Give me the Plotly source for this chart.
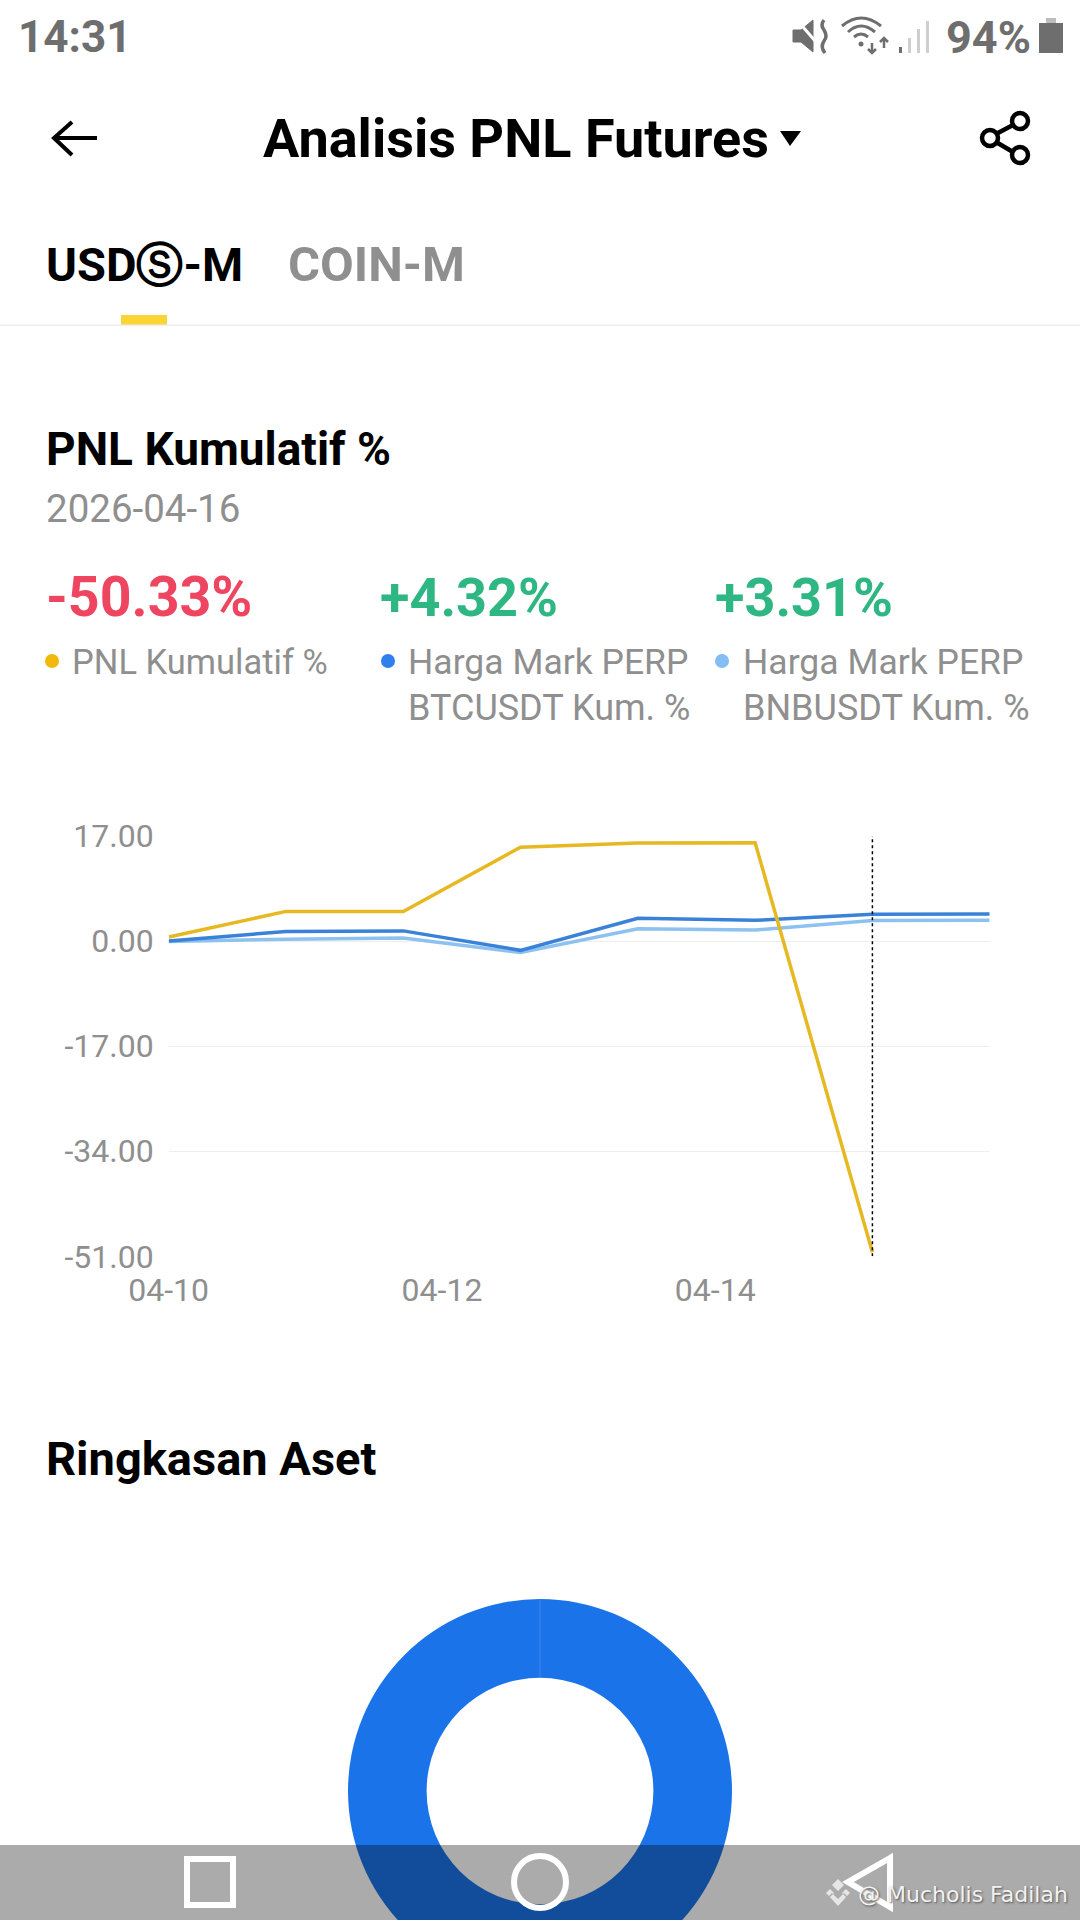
import plotly.graph_objects as go

# page is taller than the window so the donut can run off the bottom
W = 1080
H = 1990

x_days = [0, 1, 2, 3, 4, 5, 6, 7]
pnl_cum = [0.65, 4.8, 4.8, 15.2, 15.85, 15.9, -50.33]
btc_cum = [0.0, 1.55, 1.65, -1.5, 3.7, 3.35, 4.32, 4.4]
bnb_cum = [-0.05, 0.3, 0.5, -1.85, 2.0, 1.8, 3.31, 3.35]

y_ticks = [17, 0, -17, -34, -51]
y_labels = ["17.00", "0.00", "-17.00", "-34.00", "-51.00"]
x_ticks = [0, 2.33, 4.66]
x_labels = ["04-10", "04-12", "04-14"]
cursor_day = 6

asset_names = ["Aset"]
asset_values = [100]

GRAY = "#8f8f8f"
BAR_GRAY = "#6e6e6e"
FONT = "Roboto"

fig = go.Figure()

fig.add_trace(go.Pie(
    labels=asset_names,
    values=asset_values,
    hole=0.59,
    sort=False,
    textinfo="none",
    hoverinfo="skip",
    marker=dict(colors=["#1a73e8"], line=dict(width=0)),
    domain=dict(x=[348 / W, 732 / W], y=[1 - 1983 / H, 1 - 1599 / H]),
    showlegend=False,
))

fig.add_trace(go.Scatter(x=x_days, y=bnb_cum, mode="lines", line=dict(color="#8dc1f0", width=3.5), showlegend=False))
fig.add_trace(go.Scatter(x=x_days, y=btc_cum, mode="lines", line=dict(color="#3a82d8", width=3.5), showlegend=False))
fig.add_trace(go.Scatter(x=x_days, y=pnl_cum, mode="lines", line=dict(color="#e6b923", width=3.5), showlegend=False))
# empty trace just so the pixel overlay axes exist
fig.add_trace(go.Scatter(x=[], y=[], xaxis="x2", yaxis="y2", showlegend=False))

shapes = []
annotations = []


def text(x, y, s, size, color="#000000", bold=False, anchor="left", font=FONT, shadow=None):
    f = dict(family=font, size=size, color=color, weight=700 if bold else 400)
    if shadow:
        f["shadow"] = shadow
    annotations.append(dict(
        x=x, y=y, xref="x2", yref="y2", text=s, showarrow=False,
        xanchor=anchor, yanchor="middle", font=f, borderpad=0, borderwidth=0,
    ))


def path(d, color="#000000", width=4, fill=None):
    shapes.append(dict(
        type="path", path=d, xref="x2", yref="y2",
        line=dict(color=color, width=width),
        fillcolor=fill if fill else "rgba(0,0,0,0)",
    ))


def rect(x0, y0, x1, y1, fill, opacity=1):
    shapes.append(dict(
        type="rect", x0=x0, y0=y0, x1=x1, y1=y1, xref="x2", yref="y2",
        line=dict(width=0), fillcolor=fill, opacity=opacity,
    ))


def circle(cx, cy, r, fill=None, color=None, width=0):
    shapes.append(dict(
        type="circle", x0=cx - r, y0=cy - r, x1=cx + r, y1=cy + r, xref="x2", yref="y2",
        line=dict(color=color if color else "rgba(0,0,0,0)", width=width),
        fillcolor=fill if fill else "rgba(0,0,0,0)",
    ))


# status bar
text(18, 37, "14:31", 44, BAR_GRAY, True)
text(946, 37, "94%", 45, BAR_GRAY, True)
path("M793,30 L801,30 L813,20 L813,52 L801,42 L793,42 Z", BAR_GRAY, 1, BAR_GRAY)
path("M797,20 L816,42", "#ffffff", 3)
path("M824,20 Q820,25 824,30 Q828,36 824,41 Q820,47 825,53", BAR_GRAY, 3.5)
path("M842,26 Q861,10 881,26", BAR_GRAY, 3)
path("M848,32 Q861,20 875,32", BAR_GRAY, 3)
path("M854,37 Q861,31 868,37", BAR_GRAY, 3)
circle(861, 44, 2.5, BAR_GRAY)
path("M872,43 L872,53 M868,49 L872,53 L876,49", BAR_GRAY, 2.5)
path("M884,48 L884,38 M880,42 L884,38 L888,42", BAR_GRAY, 2.5)
rect(899, 47, 902, 53, BAR_GRAY)
rect(908, 38, 911, 53, "#cfcfcf")
rect(917, 29, 920, 53, "#cfcfcf")
rect(926, 21, 929, 53, "#cfcfcf")
rect(1046, 18, 1056, 23, "#bdbdbd")
rect(1039, 23, 1063, 53, BAR_GRAY)

# header
path("M97,138 L54,138 M72,122 L54,138 L72,155", "#000000", 4)
text(516, 138, "Analisis PNL Futures", 54, "#000000", True, "center")
path("M780,131 L801,131 L790,146 Z", "#000000", 0, "#000000")
path("M1013,125 L996,134 M996,142 L1013,152", "#000000", 4.5)
circle(1020, 121, 8, color="#000000", width=4.5)
circle(990, 138, 8, color="#000000", width=4.5)
circle(1020, 155, 8, color="#000000", width=4.5)

# tabs
text(46, 264, "USDⓈ-M", 47, "#000000", True)
text(288, 264, "COIN-M", 49, GRAY, True)
rect(121, 315, 167, 325, "#fcd535")
rect(0, 324.5, W, 326, "#eeeeee")

# summary block
text(46, 449, "PNL Kumulatif %", 46, "#000000", True)
text(46, 508, "2026-04-16", 38.5, GRAY)
text(46, 597, "-50.33%", 55.5, "#ee4660", True)
text(380, 597, "+4.32%", 54, "#2fb783", True)
text(715, 597, "+3.31%", 54, "#2fb783", True)

circle(52, 661, 7, "#f0b90b")
circle(388, 661, 7, "#2f80ed")
circle(722, 661, 7, "#84bdf5")
text(72, 662, "PNL Kumulatif %", 34.5, GRAY)
text(408, 662, "Harga Mark PERP", 35.5, GRAY)
text(408, 708, "BTCUSDT Kum. %", 36, GRAY)
text(743, 662, "Harga Mark PERP", 35.5, GRAY)
text(743, 708, "BNBUSDT Kum. %", 36, GRAY)

text(46, 1458, "Ringkasan Aset", 47, "#000000", True)

# crosshair on the chart axes
shapes.append(dict(
    type="line", x0=cursor_day, x1=cursor_day, y0=-51, y1=17, xref="x", yref="y",
    line=dict(color="#000000", width=1.5, dash="3px,3px"),
))

# faint seam at the top of the donut
shapes.append(dict(
    type="line", x0=540, x1=540, y0=1599, y1=1678, xref="x2", yref="y2",
    line=dict(color="#3d88ec", width=1),
))

# navigation bar
rect(0, 1845, W, 1920, "#000000", 0.33)
shapes.append(dict(
    type="rect", x0=187, y0=1859, x1=233, y1=1905, xref="x2", yref="y2",
    line=dict(color="#ffffff", width=6), fillcolor="rgba(0,0,0,0)",
))
circle(540, 1882, 26, color="#ffffff", width=6)
path("M890,1858 L848,1882 L890,1907 Z", "#ffffff", 6)

# watermark
path("M838,1879 L844,1885 L838,1891 L832,1885 Z M826,1893 L830,1889 L834,1893 L830,1897 Z "
     "M842,1893 L846,1889 L850,1893 L846,1897 Z M838,1899 L844,1893 L847,1896 L838,1906 L829,1896 L832,1893 Z",
     "#e6e6e6", 0, "#e6e6e6")
text(858, 1894, "@ Mucholis Fadilah", 22, "#f2f2f2", font="DejaVu Sans", shadow="1px 1px 2px #555555")

fig.update_layout(
    width=W,
    height=H,
    margin=dict(l=0, r=0, t=0, b=0),
    paper_bgcolor="#ffffff",
    plot_bgcolor="rgba(0,0,0,0)",
    showlegend=False,
    hovermode=False,
    shapes=shapes,
    annotations=annotations,
    xaxis=dict(
        domain=[168.7 / W, 989.7 / W],
        range=[0, 7],
        tickvals=x_ticks,
        ticktext=x_labels,
        showgrid=False,
        zeroline=False,
        showline=False,
        automargin=False,
        ticks="",
        ticklabelstandoff=12,
        tickfont=dict(family=FONT, size=32, color=GRAY),
        anchor="y",
    ),
    yaxis=dict(
        domain=[1 - 1256.3 / H, 1 - 836 / H],
        range=[-51, 17],
        tickvals=y_ticks,
        ticktext=y_labels,
        showgrid=True,
        gridcolor="#eeeeee",
        gridwidth=1,
        zeroline=False,
        showline=False,
        automargin=False,
        ticks="",
        ticklabelstandoff=14,
        tickfont=dict(family=FONT, size=32, color=GRAY),
        anchor="x",
    ),
    xaxis2=dict(domain=[0, 1], range=[0, W], visible=False, anchor="y2", automargin=False),
    yaxis2=dict(domain=[0, 1], range=[H, 0], visible=False, anchor="x2", automargin=False),
)

fig.write_html(
    "out.html",
    config=dict(displayModeBar=False),
    post_script="document.body.style.margin='0';document.documentElement.style.overflow='hidden';",
)
